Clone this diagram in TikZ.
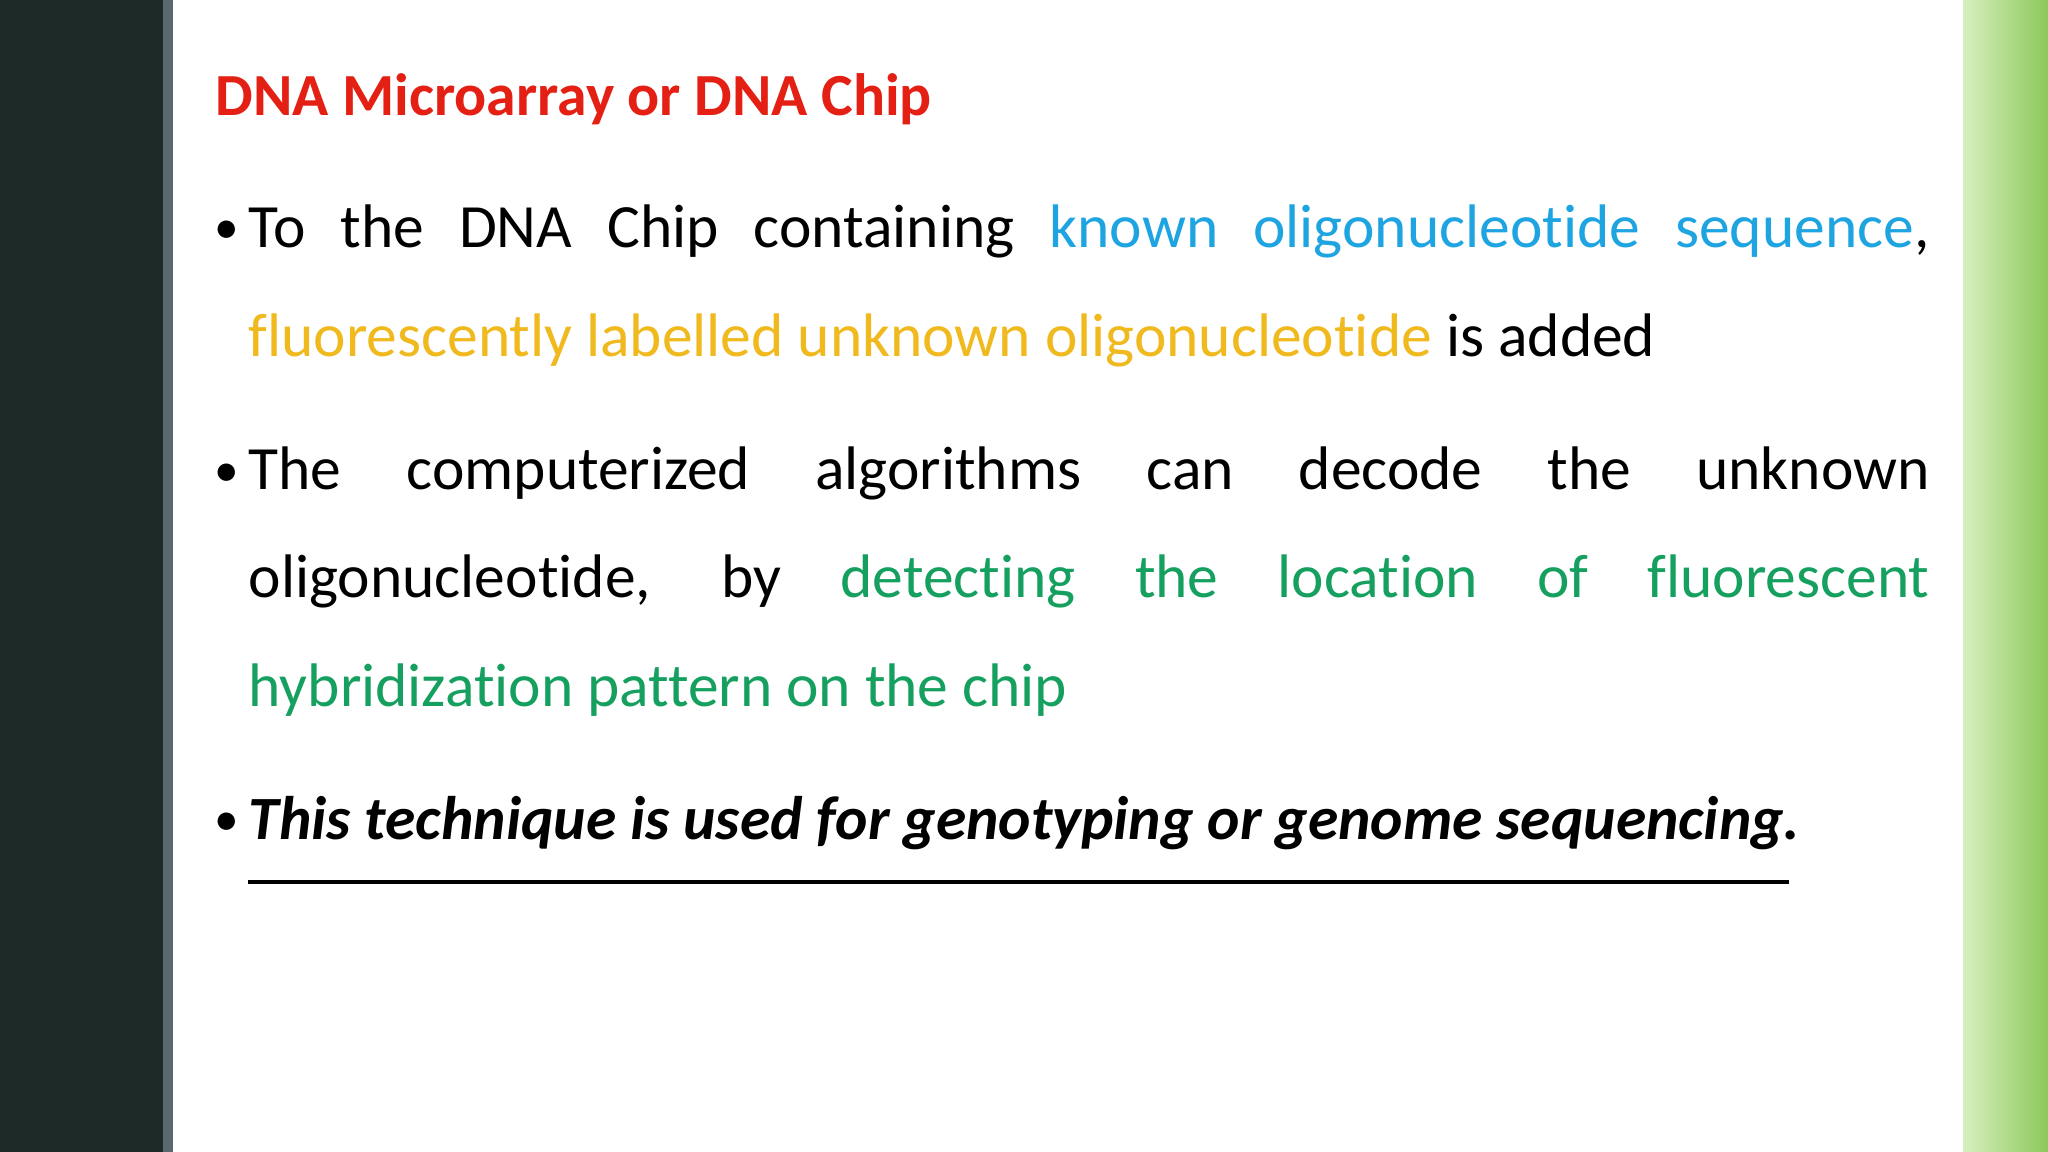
\documentclass[tikz,border=0pt]{standalone}
\usepackage{fontspec}
\setmainfont{Carlito}[Ligatures=NoCommon]
\definecolor{dkbar}{RGB}{30,42,40}
\definecolor{edge}{RGB}{90,105,110}
\definecolor{ttl}{RGB}{228,32,20}
\definecolor{bl}{RGB}{30,165,225}
\definecolor{yl}{RGB}{240,185,30}
\definecolor{gr}{RGB}{22,160,95}
\definecolor{lg1}{RGB}{215,240,190}
\definecolor{lg2}{RGB}{140,200,90}
\tikzset{
 txt/.style={anchor=base west,inner sep=0pt,font=\fontsize{17.5}{21}\selectfont},
 bul/.style={anchor=base west,inner sep=0pt,font=\fontsize{14}{17}\selectfont}
}
\newcommand{\jline}[1]{\makebox[16.81cm][s]{#1}}
\newcommand{\ul}[1]{\underline{#1}}
\begin{document}
\begin{tikzpicture}[x=1cm,y=1cm]
\useasboundingbox (0,0) rectangle (20.48,-11.52);
\fill[white] (0,0) rectangle (20.48,-11.52);
\fill[dkbar] (0,0) rectangle (1.63,-11.52);
\fill[edge] (1.63,0) rectangle (1.73,-11.52);
\shade[left color=lg1,right color=lg2] (19.63,0) rectangle (20.48,-11.52);
\node[anchor=base west,inner sep=0pt,text=ttl,font=\fontsize{17}{20}\selectfont\bfseries] (title) at (2.15,-1.16) {DNA Microarray or DNA Chip};
\node[bul] (b1) at (2.14,-2.44) {•};
\node[txt] (l1) at (2.48,-2.48) {\jline{To the DNA Chip containing \textcolor{bl}{known oligonucleotide sequence},}};
\node[txt] (l2) at (2.48,-3.57) {\textcolor{yl}{fluorescently labelled unknown oligonucleotide} is added};
\node[bul] (b2) at (2.14,-4.86) {•};
\node[txt] (l3) at (2.48,-4.90) {\jline{The computerized algorithms can decode the unknown}};
\node[txt] (l4) at (2.48,-5.98) {\jline{oligonucleotide, by \textcolor{gr}{detecting the location of fluorescent}}};
\node[txt] (l5) at (2.48,-7.07) {\textcolor{gr}{hybridization pattern on the chip}};
\node[bul] (b3) at (2.14,-8.36) {•};
\node[txt] (l6) at (2.48,-8.40) {\bfseries\itshape This technique is used for genotyping or genome sequencing.};
\draw[line width=1.4pt] ([yshift=-0.42cm]l6.base west) -- ([yshift=-0.42cm,xshift=-0.12cm]l6.base east);
\end{tikzpicture}
\end{document}
